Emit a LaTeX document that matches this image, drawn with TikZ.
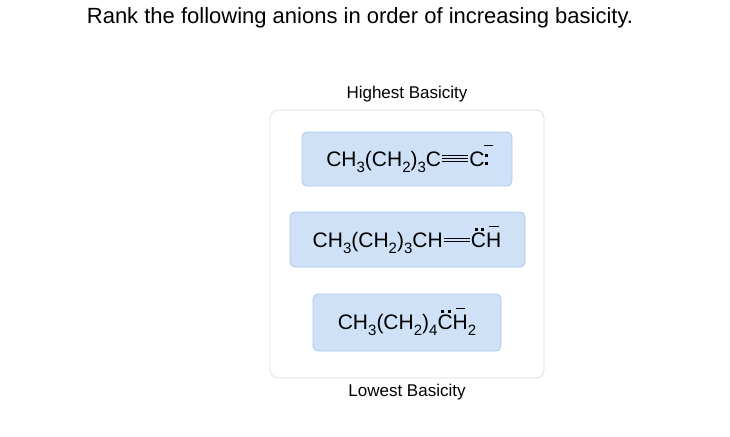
\documentclass[tikz,border=0pt]{standalone}
\usepackage{fontspec}
\setmainfont{Liberation Sans}
\definecolor{boxfill}{HTML}{CFE1F6}
\definecolor{boxline}{HTML}{A8C8EE}
\definecolor{outline}{HTML}{D4DFEC}
\newcommand\sbs[1]{\raisebox{-0.3em}{\fontsize{15}{15}\selectfont #1}}
\newcommand\bondrule[1]{\raisebox{#1}{\rule{1.25em}{0.9pt}}}
\newcommand\tbond{\kern1pt\rlap{\bondrule{0.22em}}\rlap{\bondrule{0.36em}}\bondrule{0.50em}\kern1pt}
\newcommand\dbond{\kern1pt\rlap{\bondrule{0.29em}}\bondrule{0.43em}\kern1pt}
\newcommand\mns{\rule{0.45em}{0.9pt}}
\newcommand\dotsC{\rlap{\raisebox{0.78em}{\kern0.18em\rule{0.15em}{0.15em}\kern0.15em\rule{0.15em}{0.15em}}}}
\newcommand\dotsCm{\rlap{\raisebox{0.78em}{\kern0.18em\rule{0.15em}{0.15em}\kern0.15em\rule{0.15em}{0.15em}\kern0.25em\raisebox{0.2em}{\mns}}}}
\begin{document}
\begin{tikzpicture}[x=1pt,y=-1pt,
  formbox/.style={draw=boxline,fill=boxfill,rounded corners=5pt,line width=0.8pt},
  formtext/.style={font=\fontsize{21}{21}\selectfont,inner sep=0pt},
  lab/.style={font=\fontsize{17}{17}\selectfont}]
\useasboundingbox (0,0) rectangle (730,436);
\node[font=\fontsize{22}{22}\selectfont] (title) at (360,18) {Rank the following anions in order of increasing basicity.};
\node[lab] (hi) at (407,94) {Highest Basicity};
\node[lab] (lo) at (407,392) {Lowest Basicity};
\draw[outline,rounded corners=8pt,line width=0.8pt] (270,110) rectangle (544,378);
\draw[formbox] (302,132) rectangle (512,186);
\draw[formbox] (290,212) rectangle (525,267);
\draw[formbox] (313,294) rectangle (501,351);
\node[formtext] (a1) at (407,159) {CH\sbs{3}(CH\sbs{2})\sbs{3}C\tbond C\rlap{\raisebox{0.95em}{\kern-0.05em\mns}}\raisebox{0.05em}{\rlap{\raisebox{0.4em}{\rule{0.15em}{0.15em}}}\rule{0.15em}{0.15em}}};
\node[formtext] (a2) at (407,240) {CH\sbs{3}(CH\sbs{2})\sbs{3}CH\dbond \dotsCm CH};
\node[formtext] (a3) at (407,322) {CH\sbs{3}(CH\sbs{2})\sbs{4}\dotsCm CH\sbs{2}};
\end{tikzpicture}
\end{document}
